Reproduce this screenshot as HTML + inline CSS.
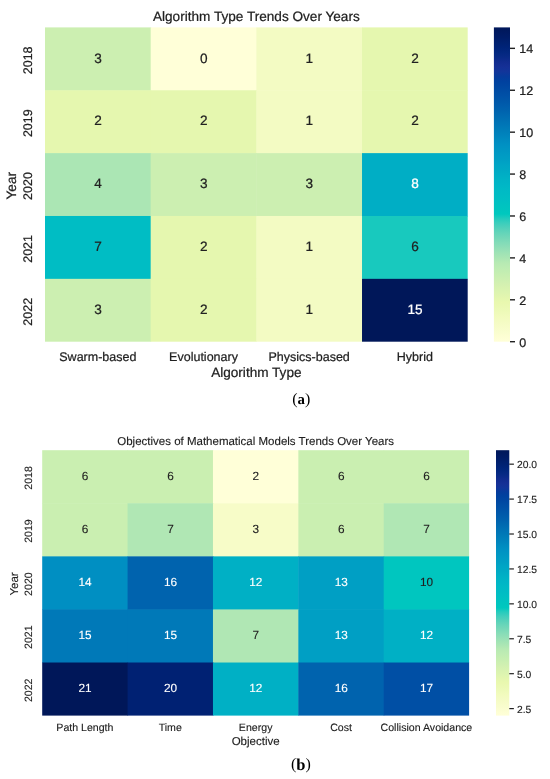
<!DOCTYPE html>
<html lang="en"><head><meta charset="utf-8"><title>Heatmaps</title>
<style>
html,body{margin:0;padding:0;background:#fff;}
body{width:550px;height:779px;overflow:hidden;}
svg{display:block;font-family:"Liberation Sans","DejaVu Sans",sans-serif;text-rendering:geometricPrecision;}
</style></head><body>
<svg width="550" height="779" viewBox="0 0 550 779">
<rect width="550" height="779" fill="#ffffff"/>
<g>
<rect x="45.00" y="27.40" width="106.17" height="63.36" fill="#ccefb1"/>
<rect x="150.68" y="27.40" width="106.17" height="63.36" fill="#ffffd8"/>
<rect x="256.35" y="27.40" width="106.17" height="63.36" fill="#f3fbc3"/>
<rect x="362.02" y="27.40" width="105.67" height="63.36" fill="#e5f7af"/>
<rect x="45.00" y="90.26" width="106.17" height="63.36" fill="#e5f7af"/>
<rect x="150.68" y="90.26" width="106.17" height="63.36" fill="#e5f7af"/>
<rect x="256.35" y="90.26" width="106.17" height="63.36" fill="#f3fbc3"/>
<rect x="362.02" y="90.26" width="105.67" height="63.36" fill="#e5f7af"/>
<rect x="45.00" y="153.12" width="106.17" height="63.36" fill="#abe6b4"/>
<rect x="150.68" y="153.12" width="106.17" height="63.36" fill="#ccefb1"/>
<rect x="256.35" y="153.12" width="106.17" height="63.36" fill="#ccefb1"/>
<rect x="362.02" y="153.12" width="105.67" height="63.36" fill="#00aec5"/>
<rect x="45.00" y="215.98" width="106.17" height="63.36" fill="#00bdc4"/>
<rect x="150.68" y="215.98" width="106.17" height="63.36" fill="#e5f7af"/>
<rect x="256.35" y="215.98" width="106.17" height="63.36" fill="#f3fbc3"/>
<rect x="362.02" y="215.98" width="105.67" height="63.36" fill="#18c9be"/>
<rect x="45.00" y="278.84" width="106.17" height="62.86" fill="#ccefb1"/>
<rect x="150.68" y="278.84" width="106.17" height="62.86" fill="#e5f7af"/>
<rect x="256.35" y="278.84" width="106.17" height="62.86" fill="#f3fbc3"/>
<rect x="362.02" y="278.84" width="105.67" height="62.86" fill="#001759"/>
</g>
<text x="98.04" y="62.63" font-size="13.6" text-anchor="middle" fill="#212121" stroke="#212121" stroke-width="0.22">3</text>
<text x="203.71" y="62.63" font-size="13.6" text-anchor="middle" fill="#212121" stroke="#212121" stroke-width="0.22">0</text>
<text x="309.39" y="62.63" font-size="13.6" text-anchor="middle" fill="#212121" stroke="#212121" stroke-width="0.22">1</text>
<text x="415.06" y="62.63" font-size="13.6" text-anchor="middle" fill="#212121" stroke="#212121" stroke-width="0.22">2</text>
<text x="98.04" y="125.49" font-size="13.6" text-anchor="middle" fill="#212121" stroke="#212121" stroke-width="0.22">2</text>
<text x="203.71" y="125.49" font-size="13.6" text-anchor="middle" fill="#212121" stroke="#212121" stroke-width="0.22">2</text>
<text x="309.39" y="125.49" font-size="13.6" text-anchor="middle" fill="#212121" stroke="#212121" stroke-width="0.22">1</text>
<text x="415.06" y="125.49" font-size="13.6" text-anchor="middle" fill="#212121" stroke="#212121" stroke-width="0.22">2</text>
<text x="98.04" y="188.35" font-size="13.6" text-anchor="middle" fill="#212121" stroke="#212121" stroke-width="0.22">4</text>
<text x="203.71" y="188.35" font-size="13.6" text-anchor="middle" fill="#212121" stroke="#212121" stroke-width="0.22">3</text>
<text x="309.39" y="188.35" font-size="13.6" text-anchor="middle" fill="#212121" stroke="#212121" stroke-width="0.22">3</text>
<text x="415.06" y="188.35" font-size="13.6" text-anchor="middle" fill="#ffffff" stroke="#ffffff" stroke-width="0.22">8</text>
<text x="98.04" y="251.21" font-size="13.6" text-anchor="middle" fill="#212121" stroke="#212121" stroke-width="0.22">7</text>
<text x="203.71" y="251.21" font-size="13.6" text-anchor="middle" fill="#212121" stroke="#212121" stroke-width="0.22">2</text>
<text x="309.39" y="251.21" font-size="13.6" text-anchor="middle" fill="#212121" stroke="#212121" stroke-width="0.22">1</text>
<text x="415.06" y="251.21" font-size="13.6" text-anchor="middle" fill="#212121" stroke="#212121" stroke-width="0.22">6</text>
<text x="98.04" y="314.07" font-size="13.6" text-anchor="middle" fill="#212121" stroke="#212121" stroke-width="0.22">3</text>
<text x="203.71" y="314.07" font-size="13.6" text-anchor="middle" fill="#212121" stroke="#212121" stroke-width="0.22">2</text>
<text x="309.39" y="314.07" font-size="13.6" text-anchor="middle" fill="#212121" stroke="#212121" stroke-width="0.22">1</text>
<text x="415.06" y="314.07" font-size="13.6" text-anchor="middle" fill="#ffffff" stroke="#ffffff" stroke-width="0.22">15</text>
<defs><linearGradient id="g1" x1="0" y1="0" x2="0" y2="1"><stop offset="0.0000" stop-color="#001759"/><stop offset="0.0156" stop-color="#001960"/><stop offset="0.0312" stop-color="#001c67"/><stop offset="0.0469" stop-color="#00206f"/><stop offset="0.0625" stop-color="#002377"/><stop offset="0.0781" stop-color="#02277f"/><stop offset="0.0938" stop-color="#082a86"/><stop offset="0.1094" stop-color="#112c8f"/><stop offset="0.1250" stop-color="#153096"/><stop offset="0.1406" stop-color="#12359a"/><stop offset="0.1562" stop-color="#063b9c"/><stop offset="0.1719" stop-color="#00419f"/><stop offset="0.1875" stop-color="#0046a1"/><stop offset="0.2031" stop-color="#004ca4"/><stop offset="0.2188" stop-color="#0051a7"/><stop offset="0.2344" stop-color="#0057a9"/><stop offset="0.2500" stop-color="#005dac"/><stop offset="0.2656" stop-color="#0063ae"/><stop offset="0.2812" stop-color="#006ab1"/><stop offset="0.2969" stop-color="#0071b4"/><stop offset="0.3125" stop-color="#0077b7"/><stop offset="0.3281" stop-color="#007eb9"/><stop offset="0.3438" stop-color="#0084bd"/><stop offset="0.3594" stop-color="#008bc0"/><stop offset="0.3750" stop-color="#0091c3"/><stop offset="0.3906" stop-color="#0096c3"/><stop offset="0.4062" stop-color="#009bc4"/><stop offset="0.4219" stop-color="#009fc4"/><stop offset="0.4375" stop-color="#00a5c5"/><stop offset="0.4531" stop-color="#00a9c4"/><stop offset="0.4688" stop-color="#00aec5"/><stop offset="0.4844" stop-color="#00b3c5"/><stop offset="0.5000" stop-color="#00b6c6"/><stop offset="0.5156" stop-color="#00bac5"/><stop offset="0.5312" stop-color="#00bcc4"/><stop offset="0.5469" stop-color="#00bfc3"/><stop offset="0.5625" stop-color="#00c2c1"/><stop offset="0.5781" stop-color="#00c5bf"/><stop offset="0.5938" stop-color="#00c8be"/><stop offset="0.6094" stop-color="#25cbbd"/><stop offset="0.6250" stop-color="#3fcebc"/><stop offset="0.6406" stop-color="#55d1ba"/><stop offset="0.6562" stop-color="#66d5b9"/><stop offset="0.6719" stop-color="#76d8b8"/><stop offset="0.6875" stop-color="#84dcb8"/><stop offset="0.7031" stop-color="#92dfb7"/><stop offset="0.7188" stop-color="#9fe3b5"/><stop offset="0.7344" stop-color="#abe6b4"/><stop offset="0.7500" stop-color="#b7eab3"/><stop offset="0.7656" stop-color="#beecb3"/><stop offset="0.7812" stop-color="#c4eeb1"/><stop offset="0.7969" stop-color="#cbefb1"/><stop offset="0.8125" stop-color="#d2f0b1"/><stop offset="0.8281" stop-color="#d8f2b0"/><stop offset="0.8438" stop-color="#ddf4b0"/><stop offset="0.8594" stop-color="#e3f6af"/><stop offset="0.8750" stop-color="#e9f8af"/><stop offset="0.8906" stop-color="#ebf9b4"/><stop offset="0.9062" stop-color="#eefab9"/><stop offset="0.9219" stop-color="#f2fbbe"/><stop offset="0.9375" stop-color="#f4fbc4"/><stop offset="0.9531" stop-color="#f7fcc9"/><stop offset="0.9688" stop-color="#f9fdce"/><stop offset="0.9844" stop-color="#fdfed3"/><stop offset="1.0000" stop-color="#ffffd8"/></linearGradient></defs>
<rect x="493.9" y="27.4" width="16.100000000000023" height="314.3" fill="url(#g1)"/>
<line x1="510.0" x2="515.0" y1="341.70" y2="341.70" stroke="#212121" stroke-width="1.4"/>
<text x="519.20" y="346.80" font-size="12.5" text-anchor="start" fill="#212121" stroke="#212121" stroke-width="0.22">0</text>
<line x1="510.0" x2="515.0" y1="299.79" y2="299.79" stroke="#212121" stroke-width="1.4"/>
<text x="519.20" y="304.89" font-size="12.5" text-anchor="start" fill="#212121" stroke="#212121" stroke-width="0.22">2</text>
<line x1="510.0" x2="515.0" y1="257.89" y2="257.89" stroke="#212121" stroke-width="1.4"/>
<text x="519.20" y="262.99" font-size="12.5" text-anchor="start" fill="#212121" stroke="#212121" stroke-width="0.22">4</text>
<line x1="510.0" x2="515.0" y1="215.98" y2="215.98" stroke="#212121" stroke-width="1.4"/>
<text x="519.20" y="221.08" font-size="12.5" text-anchor="start" fill="#212121" stroke="#212121" stroke-width="0.22">6</text>
<line x1="510.0" x2="515.0" y1="174.07" y2="174.07" stroke="#212121" stroke-width="1.4"/>
<text x="519.20" y="179.17" font-size="12.5" text-anchor="start" fill="#212121" stroke="#212121" stroke-width="0.22">8</text>
<line x1="510.0" x2="515.0" y1="132.17" y2="132.17" stroke="#212121" stroke-width="1.4"/>
<text x="519.20" y="137.27" font-size="12.5" text-anchor="start" fill="#212121" stroke="#212121" stroke-width="0.22">10</text>
<line x1="510.0" x2="515.0" y1="90.26" y2="90.26" stroke="#212121" stroke-width="1.4"/>
<text x="519.20" y="95.36" font-size="12.5" text-anchor="start" fill="#212121" stroke="#212121" stroke-width="0.22">12</text>
<line x1="510.0" x2="515.0" y1="48.35" y2="48.35" stroke="#212121" stroke-width="1.4"/>
<text x="519.20" y="53.45" font-size="12.5" text-anchor="start" fill="#212121" stroke="#212121" stroke-width="0.22">14</text>
<text x="256.35" y="21.10" font-size="13.6" text-anchor="middle" fill="#212121" stroke="#212121" stroke-width="0.22">Algorithm Type Trends Over Years</text>
<text x="97.84" y="361.00" font-size="12.5" text-anchor="middle" fill="#212121" stroke="#212121" stroke-width="0.22">Swarm-based</text>
<text x="203.51" y="361.00" font-size="12.5" text-anchor="middle" fill="#212121" stroke="#212121" stroke-width="0.22">Evolutionary</text>
<text x="309.19" y="361.00" font-size="12.5" text-anchor="middle" fill="#212121" stroke="#212121" stroke-width="0.22">Physics-based</text>
<text x="414.86" y="361.00" font-size="12.5" text-anchor="middle" fill="#212121" stroke="#212121" stroke-width="0.22">Hybrid</text>
<text x="256.35" y="377.40" font-size="13.6" text-anchor="middle" fill="#212121" stroke="#212121" stroke-width="0.22">Algorithm Type</text>
<text x="32.50" y="60.33" font-size="12.5" text-anchor="middle" fill="#212121" stroke="#212121" stroke-width="0.22" transform="rotate(-90 32.50 60.33)">2018</text>
<text x="32.50" y="123.19" font-size="12.5" text-anchor="middle" fill="#212121" stroke="#212121" stroke-width="0.22" transform="rotate(-90 32.50 123.19)">2019</text>
<text x="32.50" y="186.05" font-size="12.5" text-anchor="middle" fill="#212121" stroke="#212121" stroke-width="0.22" transform="rotate(-90 32.50 186.05)">2020</text>
<text x="32.50" y="248.91" font-size="12.5" text-anchor="middle" fill="#212121" stroke="#212121" stroke-width="0.22" transform="rotate(-90 32.50 248.91)">2021</text>
<text x="32.50" y="311.77" font-size="12.5" text-anchor="middle" fill="#212121" stroke="#212121" stroke-width="0.22" transform="rotate(-90 32.50 311.77)">2022</text>
<text x="16.00" y="185.75" font-size="13.6" text-anchor="middle" fill="#212121" stroke="#212121" stroke-width="0.22" transform="rotate(-90 16.00 185.75)">Year</text>
<g>
<rect x="42.20" y="450.20" width="85.88" height="53.58" fill="#caefb1"/>
<rect x="127.58" y="450.20" width="85.88" height="53.58" fill="#caefb1"/>
<rect x="212.96" y="450.20" width="85.88" height="53.58" fill="#ffffd8"/>
<rect x="298.34" y="450.20" width="85.88" height="53.58" fill="#caefb1"/>
<rect x="383.72" y="450.20" width="85.38" height="53.58" fill="#caefb1"/>
<rect x="42.20" y="503.28" width="85.88" height="53.58" fill="#caefb1"/>
<rect x="127.58" y="503.28" width="85.88" height="53.58" fill="#b0e7b4"/>
<rect x="212.96" y="503.28" width="85.88" height="53.58" fill="#f7fcc8"/>
<rect x="298.34" y="503.28" width="85.88" height="53.58" fill="#caefb1"/>
<rect x="383.72" y="503.28" width="85.38" height="53.58" fill="#b0e7b4"/>
<rect x="42.20" y="556.36" width="85.88" height="53.58" fill="#008fc2"/>
<rect x="127.58" y="556.36" width="85.88" height="53.58" fill="#0063ae"/>
<rect x="212.96" y="556.36" width="85.88" height="53.58" fill="#00b0c5"/>
<rect x="298.34" y="556.36" width="85.88" height="53.58" fill="#009fc4"/>
<rect x="383.72" y="556.36" width="85.38" height="53.58" fill="#00c6bf"/>
<rect x="42.20" y="609.44" width="85.88" height="53.58" fill="#0079b8"/>
<rect x="127.58" y="609.44" width="85.88" height="53.58" fill="#0079b8"/>
<rect x="212.96" y="609.44" width="85.88" height="53.58" fill="#b0e7b4"/>
<rect x="298.34" y="609.44" width="85.88" height="53.58" fill="#009fc4"/>
<rect x="383.72" y="609.44" width="85.38" height="53.58" fill="#00b0c5"/>
<rect x="42.20" y="662.52" width="85.88" height="53.08" fill="#001759"/>
<rect x="127.58" y="662.52" width="85.88" height="53.08" fill="#002173"/>
<rect x="212.96" y="662.52" width="85.88" height="53.08" fill="#00b0c5"/>
<rect x="298.34" y="662.52" width="85.88" height="53.08" fill="#0063ae"/>
<rect x="383.72" y="662.52" width="85.38" height="53.08" fill="#004fa5"/>
</g>
<text x="85.09" y="480.04" font-size="11.8" text-anchor="middle" fill="#212121" stroke="#212121" stroke-width="0.12">6</text>
<text x="170.47" y="480.04" font-size="11.8" text-anchor="middle" fill="#212121" stroke="#212121" stroke-width="0.12">6</text>
<text x="255.85" y="480.04" font-size="11.8" text-anchor="middle" fill="#212121" stroke="#212121" stroke-width="0.12">2</text>
<text x="341.23" y="480.04" font-size="11.8" text-anchor="middle" fill="#212121" stroke="#212121" stroke-width="0.12">6</text>
<text x="426.61" y="480.04" font-size="11.8" text-anchor="middle" fill="#212121" stroke="#212121" stroke-width="0.12">6</text>
<text x="85.09" y="533.12" font-size="11.8" text-anchor="middle" fill="#212121" stroke="#212121" stroke-width="0.12">6</text>
<text x="170.47" y="533.12" font-size="11.8" text-anchor="middle" fill="#212121" stroke="#212121" stroke-width="0.12">7</text>
<text x="255.85" y="533.12" font-size="11.8" text-anchor="middle" fill="#212121" stroke="#212121" stroke-width="0.12">3</text>
<text x="341.23" y="533.12" font-size="11.8" text-anchor="middle" fill="#212121" stroke="#212121" stroke-width="0.12">6</text>
<text x="426.61" y="533.12" font-size="11.8" text-anchor="middle" fill="#212121" stroke="#212121" stroke-width="0.12">7</text>
<text x="85.09" y="586.20" font-size="11.8" text-anchor="middle" fill="#ffffff" stroke="#ffffff" stroke-width="0.12">14</text>
<text x="170.47" y="586.20" font-size="11.8" text-anchor="middle" fill="#ffffff" stroke="#ffffff" stroke-width="0.12">16</text>
<text x="255.85" y="586.20" font-size="11.8" text-anchor="middle" fill="#ffffff" stroke="#ffffff" stroke-width="0.12">12</text>
<text x="341.23" y="586.20" font-size="11.8" text-anchor="middle" fill="#ffffff" stroke="#ffffff" stroke-width="0.12">13</text>
<text x="426.61" y="586.20" font-size="11.8" text-anchor="middle" fill="#212121" stroke="#212121" stroke-width="0.12">10</text>
<text x="85.09" y="639.28" font-size="11.8" text-anchor="middle" fill="#ffffff" stroke="#ffffff" stroke-width="0.12">15</text>
<text x="170.47" y="639.28" font-size="11.8" text-anchor="middle" fill="#ffffff" stroke="#ffffff" stroke-width="0.12">15</text>
<text x="255.85" y="639.28" font-size="11.8" text-anchor="middle" fill="#212121" stroke="#212121" stroke-width="0.12">7</text>
<text x="341.23" y="639.28" font-size="11.8" text-anchor="middle" fill="#ffffff" stroke="#ffffff" stroke-width="0.12">13</text>
<text x="426.61" y="639.28" font-size="11.8" text-anchor="middle" fill="#ffffff" stroke="#ffffff" stroke-width="0.12">12</text>
<text x="85.09" y="692.36" font-size="11.8" text-anchor="middle" fill="#ffffff" stroke="#ffffff" stroke-width="0.12">21</text>
<text x="170.47" y="692.36" font-size="11.8" text-anchor="middle" fill="#ffffff" stroke="#ffffff" stroke-width="0.12">20</text>
<text x="255.85" y="692.36" font-size="11.8" text-anchor="middle" fill="#ffffff" stroke="#ffffff" stroke-width="0.12">12</text>
<text x="341.23" y="692.36" font-size="11.8" text-anchor="middle" fill="#ffffff" stroke="#ffffff" stroke-width="0.12">16</text>
<text x="426.61" y="692.36" font-size="11.8" text-anchor="middle" fill="#ffffff" stroke="#ffffff" stroke-width="0.12">17</text>
<defs><linearGradient id="g2" x1="0" y1="0" x2="0" y2="1"><stop offset="0.0000" stop-color="#001759"/><stop offset="0.0156" stop-color="#001960"/><stop offset="0.0312" stop-color="#001c67"/><stop offset="0.0469" stop-color="#00206f"/><stop offset="0.0625" stop-color="#002377"/><stop offset="0.0781" stop-color="#02277f"/><stop offset="0.0938" stop-color="#082a86"/><stop offset="0.1094" stop-color="#112c8f"/><stop offset="0.1250" stop-color="#153096"/><stop offset="0.1406" stop-color="#12359a"/><stop offset="0.1562" stop-color="#063b9c"/><stop offset="0.1719" stop-color="#00419f"/><stop offset="0.1875" stop-color="#0046a1"/><stop offset="0.2031" stop-color="#004ca4"/><stop offset="0.2188" stop-color="#0051a7"/><stop offset="0.2344" stop-color="#0057a9"/><stop offset="0.2500" stop-color="#005dac"/><stop offset="0.2656" stop-color="#0063ae"/><stop offset="0.2812" stop-color="#006ab1"/><stop offset="0.2969" stop-color="#0071b4"/><stop offset="0.3125" stop-color="#0077b7"/><stop offset="0.3281" stop-color="#007eb9"/><stop offset="0.3438" stop-color="#0084bd"/><stop offset="0.3594" stop-color="#008bc0"/><stop offset="0.3750" stop-color="#0091c3"/><stop offset="0.3906" stop-color="#0096c3"/><stop offset="0.4062" stop-color="#009bc4"/><stop offset="0.4219" stop-color="#009fc4"/><stop offset="0.4375" stop-color="#00a5c5"/><stop offset="0.4531" stop-color="#00a9c4"/><stop offset="0.4688" stop-color="#00aec5"/><stop offset="0.4844" stop-color="#00b3c5"/><stop offset="0.5000" stop-color="#00b6c6"/><stop offset="0.5156" stop-color="#00bac5"/><stop offset="0.5312" stop-color="#00bcc4"/><stop offset="0.5469" stop-color="#00bfc3"/><stop offset="0.5625" stop-color="#00c2c1"/><stop offset="0.5781" stop-color="#00c5bf"/><stop offset="0.5938" stop-color="#00c8be"/><stop offset="0.6094" stop-color="#25cbbd"/><stop offset="0.6250" stop-color="#3fcebc"/><stop offset="0.6406" stop-color="#55d1ba"/><stop offset="0.6562" stop-color="#66d5b9"/><stop offset="0.6719" stop-color="#76d8b8"/><stop offset="0.6875" stop-color="#84dcb8"/><stop offset="0.7031" stop-color="#92dfb7"/><stop offset="0.7188" stop-color="#9fe3b5"/><stop offset="0.7344" stop-color="#abe6b4"/><stop offset="0.7500" stop-color="#b7eab3"/><stop offset="0.7656" stop-color="#beecb3"/><stop offset="0.7812" stop-color="#c4eeb1"/><stop offset="0.7969" stop-color="#cbefb1"/><stop offset="0.8125" stop-color="#d2f0b1"/><stop offset="0.8281" stop-color="#d8f2b0"/><stop offset="0.8438" stop-color="#ddf4b0"/><stop offset="0.8594" stop-color="#e3f6af"/><stop offset="0.8750" stop-color="#e9f8af"/><stop offset="0.8906" stop-color="#ebf9b4"/><stop offset="0.9062" stop-color="#eefab9"/><stop offset="0.9219" stop-color="#f2fbbe"/><stop offset="0.9375" stop-color="#f4fbc4"/><stop offset="0.9531" stop-color="#f7fcc9"/><stop offset="0.9688" stop-color="#f9fdce"/><stop offset="0.9844" stop-color="#fdfed3"/><stop offset="1.0000" stop-color="#ffffd8"/></linearGradient></defs>
<rect x="496.0" y="450.2" width="13.300000000000011" height="265.40000000000003" fill="url(#g2)"/>
<line x1="509.3" x2="513.9" y1="708.62" y2="708.62" stroke="#212121" stroke-width="1.2"/>
<text x="517.00" y="712.52" font-size="10.3" text-anchor="start" fill="#212121" stroke="#212121" stroke-width="0.12">2.5</text>
<line x1="509.3" x2="513.9" y1="673.69" y2="673.69" stroke="#212121" stroke-width="1.2"/>
<text x="517.00" y="677.59" font-size="10.3" text-anchor="start" fill="#212121" stroke="#212121" stroke-width="0.12">5.0</text>
<line x1="509.3" x2="513.9" y1="638.77" y2="638.77" stroke="#212121" stroke-width="1.2"/>
<text x="517.00" y="642.67" font-size="10.3" text-anchor="start" fill="#212121" stroke="#212121" stroke-width="0.12">7.5</text>
<line x1="509.3" x2="513.9" y1="603.85" y2="603.85" stroke="#212121" stroke-width="1.2"/>
<text x="517.00" y="607.75" font-size="10.3" text-anchor="start" fill="#212121" stroke="#212121" stroke-width="0.12">10.0</text>
<line x1="509.3" x2="513.9" y1="568.93" y2="568.93" stroke="#212121" stroke-width="1.2"/>
<text x="517.00" y="572.83" font-size="10.3" text-anchor="start" fill="#212121" stroke="#212121" stroke-width="0.12">12.5</text>
<line x1="509.3" x2="513.9" y1="534.01" y2="534.01" stroke="#212121" stroke-width="1.2"/>
<text x="517.00" y="537.91" font-size="10.3" text-anchor="start" fill="#212121" stroke="#212121" stroke-width="0.12">15.0</text>
<line x1="509.3" x2="513.9" y1="499.09" y2="499.09" stroke="#212121" stroke-width="1.2"/>
<text x="517.00" y="502.99" font-size="10.3" text-anchor="start" fill="#212121" stroke="#212121" stroke-width="0.12">17.5</text>
<line x1="509.3" x2="513.9" y1="464.17" y2="464.17" stroke="#212121" stroke-width="1.2"/>
<text x="517.00" y="468.07" font-size="10.3" text-anchor="start" fill="#212121" stroke="#212121" stroke-width="0.12">20.0</text>
<text x="255.65" y="445.20" font-size="11.5" text-anchor="middle" fill="#212121" stroke="#212121" stroke-width="0.12">Objectives of Mathematical Models Trends Over Years</text>
<text x="84.89" y="731.40" font-size="10.6" text-anchor="middle" fill="#212121" stroke="#212121" stroke-width="0.12">Path Length</text>
<text x="170.27" y="731.40" font-size="10.6" text-anchor="middle" fill="#212121" stroke="#212121" stroke-width="0.12">Time</text>
<text x="255.65" y="731.40" font-size="10.6" text-anchor="middle" fill="#212121" stroke="#212121" stroke-width="0.12">Energy</text>
<text x="341.03" y="731.40" font-size="10.6" text-anchor="middle" fill="#212121" stroke="#212121" stroke-width="0.12">Cost</text>
<text x="426.41" y="731.40" font-size="10.6" text-anchor="middle" fill="#212121" stroke="#212121" stroke-width="0.12">Collision Avoidance</text>
<text x="255.65" y="745.40" font-size="11.5" text-anchor="middle" fill="#212121" stroke="#212121" stroke-width="0.12">Objective</text>
<text x="32.40" y="477.94" font-size="10.6" text-anchor="middle" fill="#212121" stroke="#212121" stroke-width="0.12" transform="rotate(-90 32.40 477.94)">2018</text>
<text x="32.40" y="531.02" font-size="10.6" text-anchor="middle" fill="#212121" stroke="#212121" stroke-width="0.12" transform="rotate(-90 32.40 531.02)">2019</text>
<text x="32.40" y="584.10" font-size="10.6" text-anchor="middle" fill="#212121" stroke="#212121" stroke-width="0.12" transform="rotate(-90 32.40 584.10)">2020</text>
<text x="32.40" y="637.18" font-size="10.6" text-anchor="middle" fill="#212121" stroke="#212121" stroke-width="0.12" transform="rotate(-90 32.40 637.18)">2021</text>
<text x="32.40" y="690.26" font-size="10.6" text-anchor="middle" fill="#212121" stroke="#212121" stroke-width="0.12" transform="rotate(-90 32.40 690.26)">2022</text>
<text x="17.70" y="583.90" font-size="11.5" text-anchor="middle" fill="#212121" stroke="#212121" stroke-width="0.12" transform="rotate(-90 17.70 583.90)">Year</text>
<text x="301.2" y="404.4" font-size="16" text-anchor="middle" fill="#000" font-family="'Liberation Serif', 'DejaVu Serif', serif">(<tspan font-weight="bold" font-size="14.8">a</tspan>)</text>
<text x="300.8" y="768.9" font-size="16" text-anchor="middle" fill="#000" font-family="'Liberation Serif', 'DejaVu Serif', serif">(<tspan dy="0.7" font-weight="bold" font-size="16.5">b</tspan><tspan dy="-0.7">)</tspan></text>
</svg>
</body></html>
